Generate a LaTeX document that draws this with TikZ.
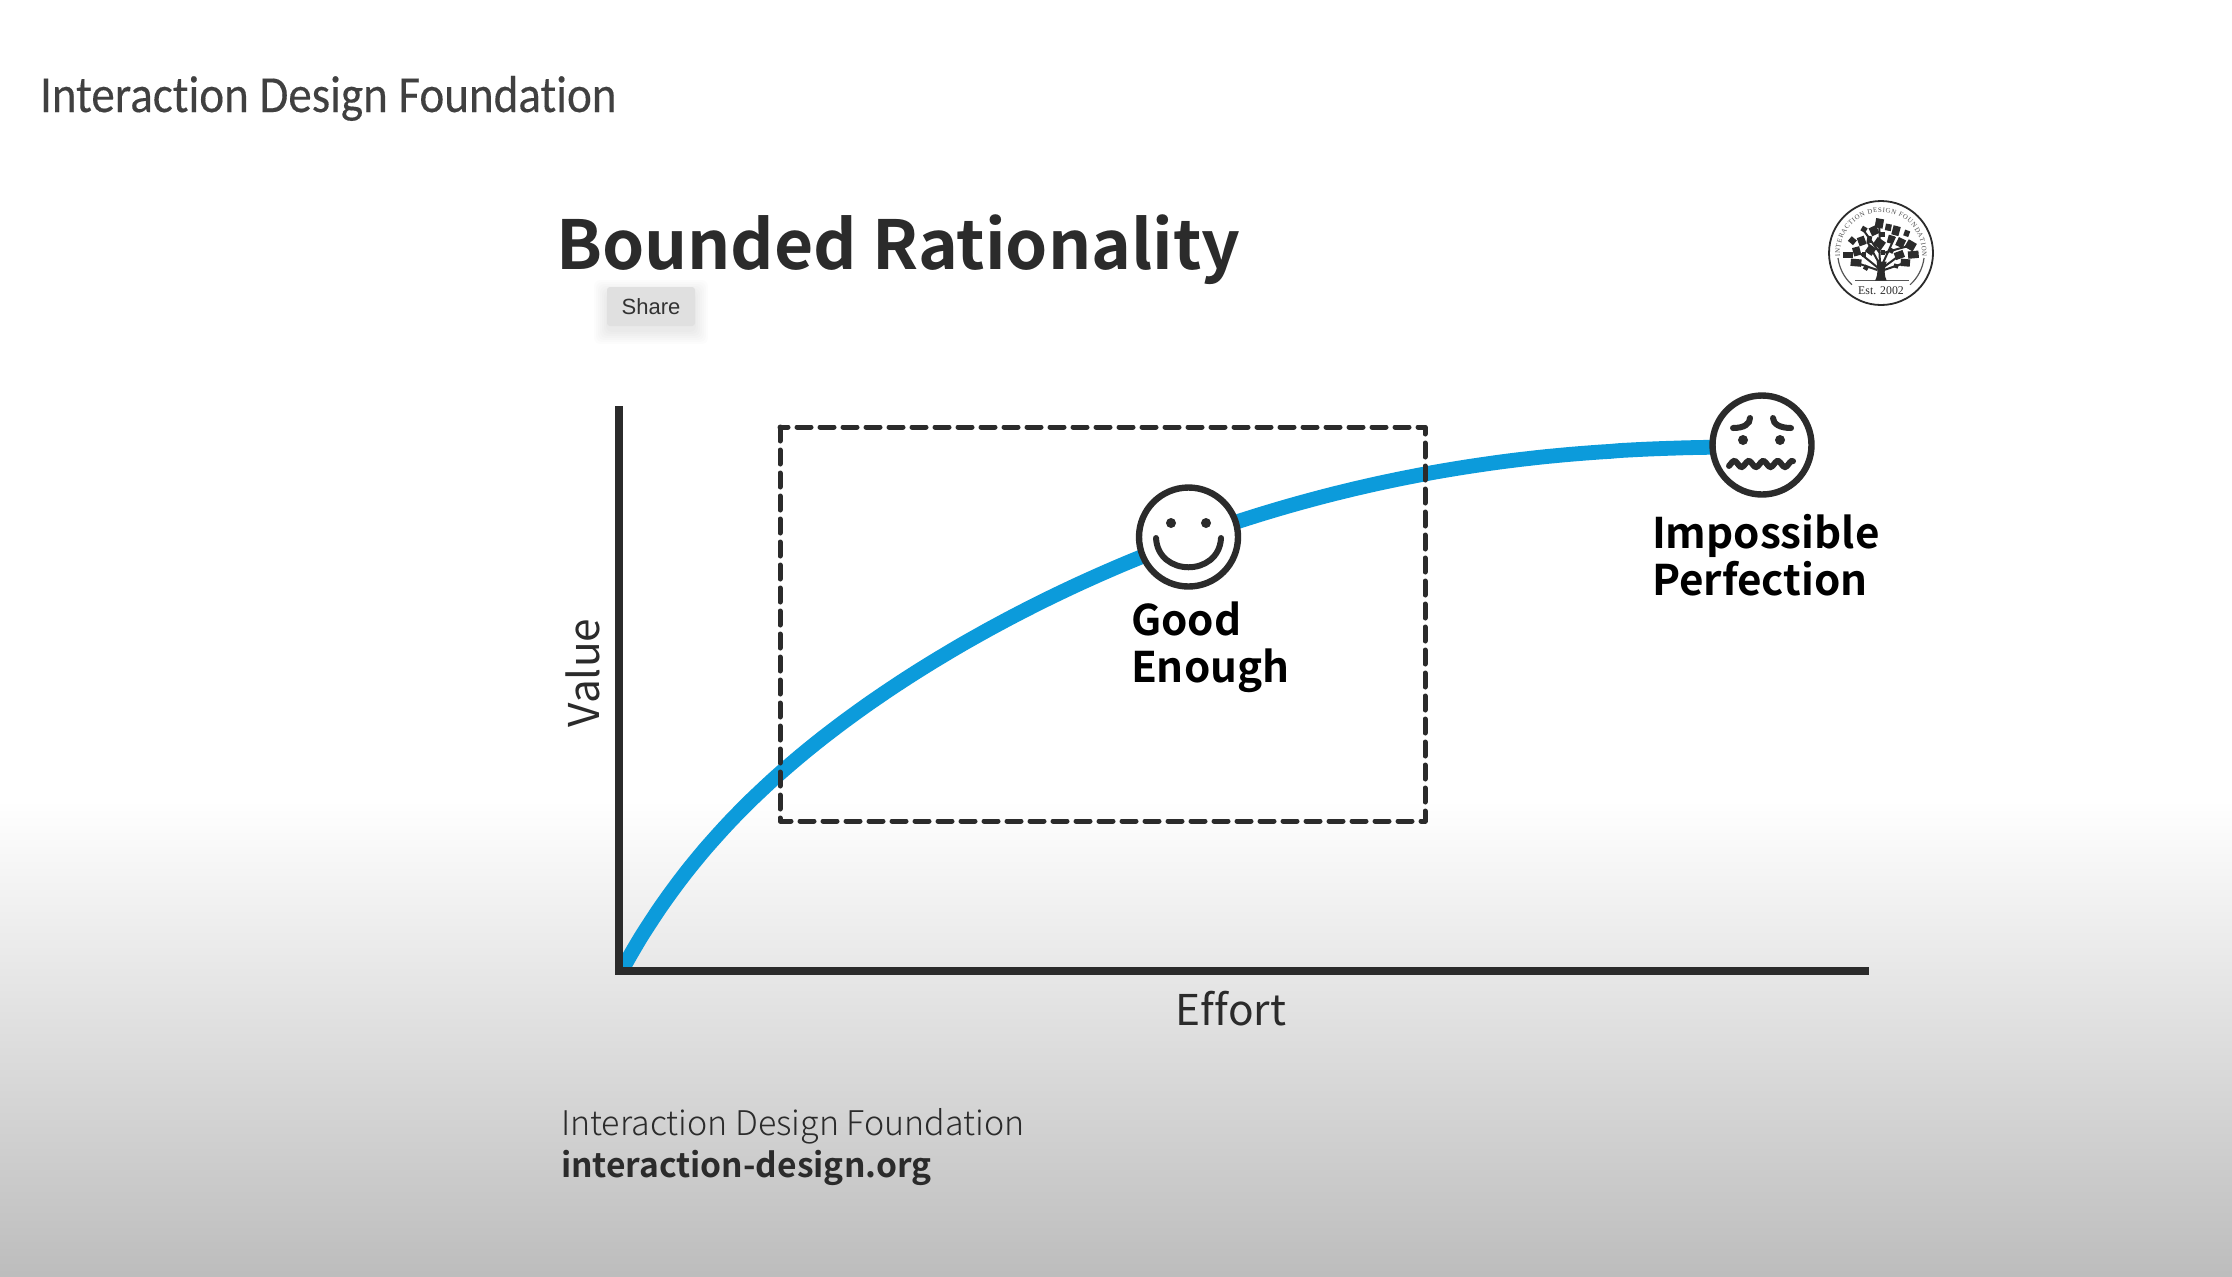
\documentclass[tikz,border=0pt]{standalone}
\usepackage{fontspec}
\usetikzlibrary{decorations.text,calc}
\setmainfont{Noto Sans CJK SC}[BoldFont=* Bold,Ligatures=NoCommon]
\newfontfamily\lightfont{Noto Sans CJK SC}[UprightFont=* Light,Ligatures=NoCommon]
\newfontfamily\headfont{Carlito}[FakeStretch=.905,FakeBold=.25,Ligatures=NoCommon]
\newfontfamily\shareui{Liberation Sans}
\newfontfamily\logofont{Liberation Serif}
\definecolor{ink}{HTML}{2B2B2B}
\definecolor{curveblue}{HTML}{0C9BDB}
\tikzset{
  txt/.style={inner sep=0pt,outer sep=0pt,text=ink,anchor=base west},
  axisline/.style={line width=4pt,draw=ink},
  dashbox/.style={draw=ink,line width=2.5pt,line cap=round,line join=round,dash pattern=on 7pt off 4.5pt},
  face/.style={circle,draw=ink,line width=3.2pt,fill=white,minimum size=49.5pt,inner sep=0pt},
  facedetail/.style={draw=ink,line width=3pt,line cap=round},
  eye/.style={fill=ink},
  lab/.style={txt,text=black,font=\fontsize{21.1}{21.1}\selectfont\bfseries},
  logoink/.style={draw=ink!80,line width=.6pt},
  softshadow/.style={fill=black,fill opacity=.012,rounded corners=3pt},
}
\begin{document}
\begin{tikzpicture}[x=0.5pt,y=-0.5pt]
\useasboundingbox (0,0) rectangle (2232,1276);
\fill[white] (0,0) rectangle (2232,810);
\shade[top color=white,bottom color=black!26] (0,800) rectangle (2232,1276);

\node[txt,text=black!75,font=\fontsize{26}{26}\selectfont\headfont] (brand) at (40,112) {Interaction Design Foundation};
\node[txt,font=\fontsize{33.8}{33.8}\selectfont\bfseries] (title) at (556,269) {Bounded Rationality};
\foreach \e in {1,3,5,7,9,11,13}
  \fill[softshadow] (607-\e,293-\e) rectangle (695+\e,331+\e);
\node[inner sep=0pt,minimum width=44pt,minimum height=19.5pt,fill=black!12,rounded corners=1.5pt,text=black!80,font=\fontsize{11}{11}\selectfont\shareui] (share) at (651,306.5) {Share};

% logo
\begin{scope}[shift={(1881,253)}]
  \node[circle,draw=ink,line width=.9pt,minimum size=52pt,inner sep=0pt] (seal) at (0,0) {};
  \path[decorate,decoration={text along path,text align=fit to path,text={|\fontsize{3.4}{4}\selectfont\logofont\color{ink!85}|INTERACTION DESIGN FOUNDATION}}]
    (185:20.5pt) arc[start angle=185,end angle=-5,radius=20.5pt];
  \draw[logoink] (-43,5) arc[start angle=187,end angle=228,radius=21.5pt];
  \draw[logoink] (43,5) arc[start angle=-7,end angle=-48,radius=21.5pt];
  \draw[logoink] (-26,27.5) -- (28,27.5);
  \node[inner sep=0pt,text=ink,font=\fontsize{5.9}{5.9}\selectfont\logofont] (est) at (0,37.5) {Est. 2002};
\end{scope}
\begin{scope}[shift={(1780,170)},x=0.16667pt,y=-0.16667pt]
  \fill[ink] (285,332) .. controls (296,310) and (292,295) .. (290,275) -- (320,275) .. controls (312,300) and (312,315) .. (320,332) -- cycle;
  \draw[ink,line width=1pt] (300,295) -- (298,220) (296,295) -- (240,250) (300,285) -- (262,215) (306,295) -- (360,255) (306,285) -- (345,200) (292,300) -- (228,278) (312,300) -- (376,278) (300,240) -- (298,170) (300,250) -- (250,180) (306,250) -- (392,226);
  \foreach \bx/\by/\bw/\bh/\br in {
    298/160/24/28/10, 252/178/16/16/30, 282/182/24/26/-25, 325/172/18/20/10,
    348/182/22/28/15, 380/190/16/18/20, 217/212/20/18/40, 245/213/22/26/-20,
    268/208/14/20/10, 308/193/14/16/0, 298/220/30/26/35, 332/208/18/24/15,
    362/218/24/26/25, 392/226/28/26/30, 230/244/22/26/-15, 204/254/30/18/0,
    272/240/24/26/35, 252/253/12/14/0, 308/247/12/14/0, 334/242/14/14/30,
    358/255/28/22/-20, 400/254/32/22/-5, 228/278/32/22/5, 376/278/28/22/5,
    258/293/14/14/30, 348/288/14/12/20}
    \fill[ink,rotate around={-\br:(\bx,\by)}] (\bx-\bw/2,\by-\bh/2) rectangle (\bx+\bw/2,\by+\bh/2);
\end{scope}

% chart
\coordinate (origin) at (619,971);
\coordinate (ytop) at (619,406);
\coordinate (xend) at (1869,971);
\draw[curveblue,line width=7.4pt] plot[smooth,samples=120,domain=0:1088] (623+\x,{968-436*(1-(1-\x/1130)^2.25)-85*(1-exp(-\x/90))});
\draw[axisline] (ytop) -- (origin) -- (xend);
\draw[dashbox] (780,427) rectangle (1425,821);

\node[face] (good) at (1188.5,537) {};
\fill[eye] (1171,523) circle[radius=5];
\fill[eye] (1206,523) circle[radius=5];
\draw[facedetail] (1156,538) .. controls (1158,577) and (1219,577) .. (1221,538);

\node[face] (bad) at (1762,445) {};
\fill[eye] (1743,440) circle[radius=5];
\fill[eye] (1780,440) circle[radius=5];
\draw[facedetail] (1733,428) .. controls (1744,428) and (1750,424) .. (1750,418);
\draw[facedetail] (1791,428) .. controls (1780,428) and (1773,424) .. (1773,418);
\draw[facedetail] plot[smooth,samples=41,domain=0:64] (1729+\x,{464-3*sin(\x*24.83-40)});

\node[lab] (goodl) at (1131,635) {Good};
\node[lab] (enough) at (1131,682) {Enough};
\node[lab] (imp) at (1652,548) {Impossible};
\node[lab] (perf) at (1652,595) {Perfection};

\node[txt,anchor=center,rotate=90,font=\fontsize{21.2}{21.2}\selectfont] (value) at (583,673) {Value};
\node[txt,anchor=center,font=\fontsize{21.2}{21.2}\selectfont] (effort) at (1231,1009) {Effort};

\node[txt,font=\fontsize{17}{17}\selectfont\lightfont] (foot1) at (561,1135) {Interaction Design Foundation};
\node[txt,font=\fontsize{16.8}{16.8}\selectfont\bfseries] (foot2) at (561,1177) {interaction-design.org};
\end{tikzpicture}
\end{document}
